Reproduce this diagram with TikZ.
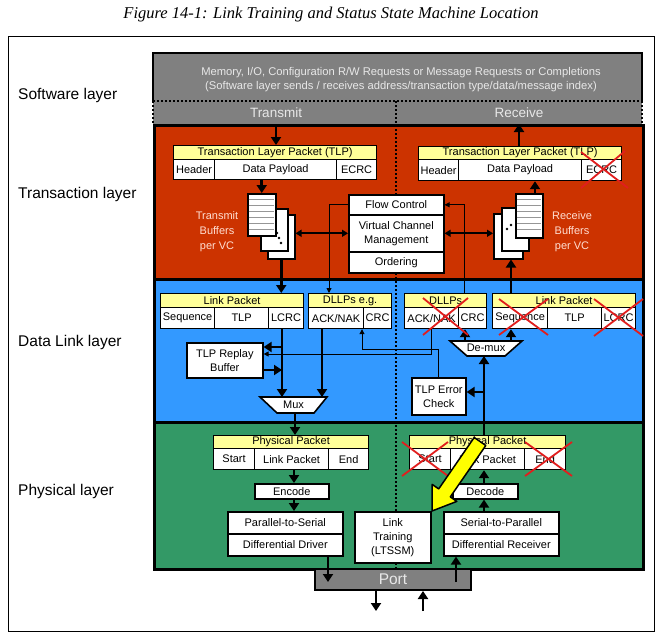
\documentclass[tikz,border=0pt]{standalone}
\usepackage{fontspec}
\setmainfont{Liberation Sans}
\newfontfamily\capfont{Liberation Serif}
\usetikzlibrary{arrows.meta}
\definecolor{swgray}{RGB}{128,128,128}
\definecolor{tred}{RGB}{204,51,0}
\definecolor{dblue}{RGB}{51,153,255}
\definecolor{pgreen}{RGB}{51,153,102}
\definecolor{hyel}{RGB}{255,255,153}
\definecolor{lttxt}{RGB}{232,232,232}
\definecolor{pinktxt}{RGB}{255,222,210}
\definecolor{xred}{RGB}{225,30,30}
\definecolor{arryel}{RGB}{255,255,0}
\definecolor{stripe}{RGB}{150,150,150}
\begin{document}
\begin{tikzpicture}[x=1pt,y=-1pt,
  corners/.style n args={4}{anchor=north west, at={(#1,#2)}, minimum width={#3-#1}, minimum height={#4-#2}},
  layer/.style={draw, line width=2.5pt, inner sep=0pt},
  box/.style={draw, line width=1.6pt, fill=white, inner sep=0pt, align=center, font=\fontsize{11}{14}\selectfont},
  hdr/.style={box, fill=hyel, line width=1.2pt},
  fld/.style={box, line width=1.2pt},
  page/.style={draw, line width=1.5pt, fill=white, inner sep=0pt},
  lbl/.style={anchor=west, inner sep=0pt, font=\fontsize{15.5}{18}\selectfont},
  tharr/.style={line width=2.8pt, -{Triangle[length=8pt,width=10pt]}},
  darr/.style={line width=1.8pt, {Triangle[length=6pt,width=7pt]}-{Triangle[length=6pt,width=7pt]}},
  tnarr/.style={line width=0.9pt, -{Triangle[length=5pt,width=5pt]}},
  dotline/.style={line width=2pt, dash pattern=on 2pt off 2pt},
  xmark/.style={draw=xred, line width=1.8pt},
  muxbox/.style={draw, line width=1.6pt, fill=white, line join=miter},
]
\useasboundingbox (0,0) rectangle (661,642);
% caption and frame
\node[font=\capfont\itshape\fontsize{16.5}{19}\selectfont] (cap) at (331,15) {Figure 14-1: Link Training and Status State Machine Location};
\node[corners={8}{36}{654}{631}, draw, line width=1.2pt] (frame) {};
% layers
\node[corners={153}{53}{642}{124}, fill=swgray, inner sep=0pt] (sw) {};
\node[layer, fill=tred, corners={153}{124}{642}{278}] (trans) {};
\node[layer, fill=dblue, corners={153}{278}{642}{421}] (dll) {};
\node[layer, fill=pgreen, corners={153}{421}{642}{568}] (phys) {};
\node[layer, line width=2pt, fill=swgray, corners={314}{568}{470}{589}, text=lttxt, font=\fontsize{15.5}{18}\selectfont] (port) {Port};
\draw[line width=2.5pt] (153,101) -- (153,53) -- (642,53) -- (642,101);
\draw[dotline] (153,101) -- (642,101) (153,101) -- (153,124) (642,101) -- (642,124);
\draw[dotline] (396,101) -- (396,511);
\draw[dotline] (396,563) -- (396,568);
% left labels
\node[lbl] (lsw) at (18,95) {Software layer};
\node[lbl] (ltr) at (18,194) {Transaction layer};
\node[lbl] (ldl) at (18,342) {Data Link layer};
\node[lbl] (lph) at (18,491) {Physical layer};
% software texts
\node[text=lttxt, font=\fontsize{11.2}{14}\selectfont, align=center] (swtxt) at (401,79.5) {Memory, I/O, Configuration R/W Requests or Message Requests or Completions\\(Software layer sends / receives address/transaction type/data/message index)};
\node[text=lttxt, font=\fontsize{13.5}{16}\selectfont] (txlbl) at (276,113) {Transmit};
\node[text=lttxt, font=\fontsize{13.5}{16}\selectfont] (rxlbl) at (519,113) {Receive};
% transaction layer
\node[hdr, corners={173}{145}{376}{159}] (txtlp) {Transaction Layer Packet (TLP)};
\node[fld, corners={173}{159}{214}{179}] (txhdr) {Header};
\node[fld, corners={214}{159}{336}{179}] (txpay) {Data Payload};
\node[fld, corners={336}{159}{376}{179}] (txecrc) {ECRC};
\node[hdr, corners={418}{146}{621}{159}] (rxtlp) {Transaction Layer Packet (TLP)};
\node[fld, corners={418}{159}{458}{180}] (rxhdr) {Header};
\node[fld, corners={458}{159}{581}{180}] (rxpay) {Data Payload};
\node[fld, corners={581}{159}{621}{180}] (rxecrc) {ECRC};
\node[box, corners={348}{194}{443}{214}] (fc) {Flow Control};
\node[box, corners={348}{214}{443}{251}] (vcm) {Virtual Channel\\Management};
\node[box, corners={348}{251}{443}{272}] (ord) {Ordering};
% transmit buffers
\node[page, corners={267}{214}{294}{258}] (txb3) {};
\node[page, corners={260}{208}{287}{250}] (txb2) {};
\node[page, corners={247}{193}{275}{235}] (txb1) {};
\foreach \yy in {199,205,211,217,223,229} \draw[stripe, line width=1pt] (248.5,\yy) -- (273.5,\yy);
\fill (277,233) circle (1.4pt) (279,238) circle (1.4pt) (281,243) circle (1.4pt);
% receive buffers
\node[page, corners={493}{213}{522}{258}] (rxb3) {};
\node[page, corners={501}{207}{528}{250}] (rxb2) {};
\node[page, corners={515}{193}{542}{237}] (rxb1) {};
\foreach \yy in {199,205,211,217,223,229} \draw[stripe, line width=1pt] (516.5,\yy) -- (540.5,\yy);
\fill (507,229) circle (1.4pt) (511,225) circle (1.4pt);
\node[text=pinktxt, font=\fontsize{11}{15}\selectfont, align=center] (txbl) at (217,232) {Transmit\\Buffers\\per VC};
\node[text=pinktxt, font=\fontsize{11}{15}\selectfont, align=center] (rxbl) at (572,232) {Receive\\Buffers\\per VC};
% data link layer
\node[hdr, corners={160}{293}{303}{307}] (txlph) {Link Packet};
\node[fld, corners={160}{307}{214}{328}] (txseq) {Sequence};
\node[fld, corners={214}{307}{268}{328}] (txltlp) {TLP};
\node[fld, corners={268}{307}{303}{328}] (txlcrc) {LCRC};
\node[hdr, corners={308}{293}{391}{307}] (txdlh) {DLLPs e.g.};
\node[fld, corners={308}{307}{363}{328}] (txack) {ACK/NAK};
\node[fld, corners={363}{307}{391}{328}] (txcrc) {CRC};
\node[hdr, corners={404}{293}{486}{307}] (rxdlh) {DLLPs};
\node[fld, corners={404}{307}{458}{328}] (rxack) {ACK/NAK};
\node[fld, corners={458}{307}{486}{328}] (rxcrc) {CRC};
\node[hdr, corners={492}{293}{635}{307}] (rxlph) {Link Packet};
\node[fld, corners={492}{307}{547}{328}] (rxseq) {Sequence};
\node[fld, corners={547}{307}{601}{328}] (rxltlp) {TLP};
\node[fld, corners={601}{307}{635}{328}] (rxlcrc) {LCRC};
\node[box, corners={186}{342}{262}{377}] (replay) {TLP Replay\\Buffer};
\node[box, corners={411}{377}{465}{414}] (terr) {TLP Error\\Check};
\path[muxbox] (260,397) -- (327,397) -- (314,413) -- (277,413) -- cycle;
\node[font=\fontsize{11}{14}\selectfont] (mux) at (293.5,405) {Mux};
\path[muxbox] (450,341) -- (522,341) -- (505,356) -- (467,356) -- cycle;
\node[font=\fontsize{11}{14}\selectfont] (demux) at (486,348) {De-mux};
% physical layer
\node[hdr, corners={213}{435}{368}{448}] (txpph) {Physical Packet};
\node[fld, corners={213}{448}{254}{469}] (txstart) {Start};
\node[fld, corners={254}{448}{328}{469}] (txplink) {Link Packet};
\node[fld, corners={328}{448}{368}{469}] (txend) {End};
\node[box, corners={254}{483}{328}{498}] (enc) {Encode};
\node[box, corners={227}{511}{342}{533}] (p2s) {Parallel-to-Serial};
\node[box, corners={227}{533}{342}{555}] (ddrv) {Differential Driver};
\node[box, corners={354}{511}{430}{562}] (lt) {Link\\Training\\(LTSSM)};
\node[hdr, corners={409}{435}{565}{448}] (rxpph) {Physical Packet};
\node[fld, corners={409}{448}{450}{469}] (rxstart) {Start};
\node[fld, corners={450}{448}{524}{469}] (rxplink) {Link Packet};
\node[fld, corners={524}{448}{565}{469}] (rxend) {End};
\node[box, corners={452}{483}{517}{498}] (dec) {Decode};
\node[box, corners={443}{511}{558}{533}] (s2p) {Serial-to-Parallel};
\node[box, corners={443}{533}{558}{555}] (drcv) {Differential Receiver};
% helper coordinates
\coordinate (rxbx) at (535,0);
\coordinate (fclx) at (329,0);
\coordinate (fcrx) at (464,0);
\coordinate (rxlx) at (511,0);
\coordinate (vx1) at (282,0);
\coordinate (vx2) at (322,0);
\coordinate (muxt) at (0,397);
\coordinate (muxb) at (295,413);
\coordinate (r1) at (282,347);
\coordinate (r2) at (282,370);
\coordinate (ak) at (431,354);
\coordinate (ec) at (362,349);
\coordinate (rxv) at (484,0);
\coordinate (dmb) at (0,356);
\coordinate (dmt) at (0,341);
\coordinate (tb) at (484,392);
\coordinate (dx1) at (465,0);
\coordinate (px1) at (294,0);
\coordinate (px2) at (328,0);
\coordinate (px3) at (456,0);
\coordinate (pin) at (0,582);
\coordinate (po1) at (376,611);
\coordinate (po2) at (423,611);
% transaction arrows
\draw[tharr] (txlbl.south |- trans.north) -- (txlbl.south |- txtlp.north);
\draw[tharr] (txpay.south -| txb1.north) -- (txb1.north);
\draw[tharr] (txb3.south) -- (txb3.south |- txlph.north);
\draw[darr] (vcm.west) -- (vcm.west -| txb3.east);
\draw[darr] (vcm.east) -- (vcm.east -| rxb3.west);
\draw[tharr] (rxb1.north -| rxbx) -- (rxpay.south -| rxbx);
\draw[tharr] (rxtlp.north -| rxlbl.south) -- (trans.north -| rxlbl.south);
\draw[tnarr] (fc.west) -| (txdlh.north -| fclx);
\draw[tnarr] (rxdlh.north -| fcrx) |- (fc.east);
\draw[tharr] (rxlph.north -| rxlx) -- (rxb3.south -| rxlx);
% data link arrows
\draw[tharr] (txlcrc.south -| vx1) -- (vx1 |- muxt);
\draw[tharr] (txack.south -| vx2) -- (vx2 |- muxt);
\draw[tharr] (r1) -- (r1 -| replay.east);
\draw[tharr] (r2 -| replay.east) -- (r2);
\draw[tnarr] (rxack.south -| ak) |- (replay.east |- ak);
\draw[tnarr] (terr.north) |- (ec) -- (ec |- txcrc.south);
\draw[tharr] (muxb) -- (muxb |- txpph.north);
\draw[tharr] (rxpph.north -| rxv) -- (rxv |- dmb);
\draw[tharr] (tb) -- (tb -| terr.east);
\draw[tharr] (dx1 |- dmt) -- (rxcrc.south -| dx1);
\draw[tharr] (rxlx |- dmt) -- (rxseq.south -| rxlx);
% physical arrows
\draw[tharr] (txplink.south -| px1) -- (enc.north -| px1);
\draw[tharr] (enc.south -| px1) -- (p2s.north -| px1);
\draw[tharr] (ddrv.south -| px2) -- (px2 |- pin);
\draw[tharr] (px3 |- pin) -- (drcv.south -| px3);
\draw[tharr] (s2p.north -| rxv) -- (dec.south -| rxv);
\draw[tharr] (dec.north -| rxv) -- (rxplink.south -| rxv);
\draw[tharr] (port.south -| po1) -- (po1);
\draw[tharr] (po2) -- (port.south -| po2);
% red crosses
\draw[xmark] (581,152) -- (628,188) (625,151) -- (581,188);
\draw[xmark] (423,298) -- (468,335) (468,298) -- (423,335);
\draw[xmark] (499,299) -- (548,335) (548,299) -- (499,335);
\draw[xmark] (594,299) -- (643,336) (643,299) -- (594,336);
\draw[xmark] (402,442) -- (448,476) (448,442) -- (402,476);
\draw[xmark] (525,442) -- (572,476) (572,442) -- (525,476);
% yellow arrow
\filldraw[fill=arryel, draw=black, line width=1.5pt, line join=round] (485.8,445.5) -- (450.3,496.9) -- (456.8,501.4) -- (432,511) -- (432.2,484.4) -- (438.7,488.9) -- (474.2,437.5) -- cycle;
\end{tikzpicture}
\end{document}
